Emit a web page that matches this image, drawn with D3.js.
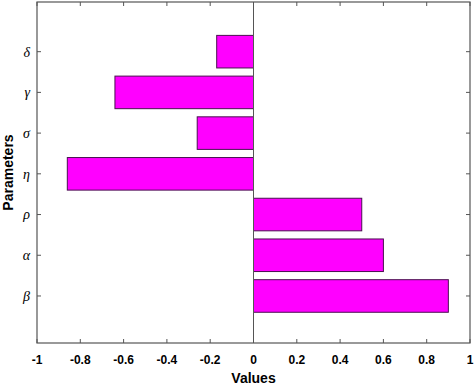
<html>
  <head>
    <meta charset="utf-8">
    <title>Parameter values</title>
    <style>
      body { margin: 0; background: #fff; }
      .tick-x { font: bold 12px "Liberation Sans", Arial, sans-serif; text-anchor: middle; }
      .tick-y { font: italic 14px "Liberation Serif", "Times New Roman", serif; text-anchor: end; }
      .axis-title { font: bold 14px "Liberation Sans", Arial, sans-serif; text-anchor: middle; }
    </style>
  </head>
  <body>
    <svg id="chart" width="474" height="387"></svg>
    <script src="https://cdn.jsdelivr.net/npm/d3@7"></script>
    <script>
// data, bottom to top
var params = ["β", "α", "ρ", "η", "σ", "γ", "δ"];
var values = [0.9, 0.6, 0.5, -0.86, -0.26, -0.64, -0.17];
var xTicks = [-1, -0.8, -0.6, -0.4, -0.2, 0, 0.2, 0.4, 0.6, 0.8, 1];

// plot box (window.top is reserved, so prefix everything)
var plotLeft = 37, plotRight = 470, plotTop = 2, plotBottom = 343;
var axisColour = "#555";

var svg = d3.select("#chart");

var x = d3.scaleLinear().domain([-1, 1]).range([plotLeft, plotRight]);
// category index -> vertical position (bars sit on 0..6)
var y = d3.scaleLinear().domain([-1.155, 7.22]).range([plotBottom, plotTop]);
var barH = (y(0) - y(1)) * 0.8;

// bars
svg.selectAll(".bar")
  .data(values)
  .enter().append("rect")
    .attr("class", "bar")
    .attr("x", d => x(Math.min(0, d)))
    .attr("width", d => Math.abs(x(d) - x(0)))
    .attr("y", (d, i) => y(i) - barH / 2)
    .attr("height", barH)
    .style("fill", "#ff00ff")
    .style("stroke", "#4a1050")
    .style("stroke-width", 1);

// zero line
svg.append("line")
    .attr("x1", x(0)).attr("x2", x(0))
    .attr("y1", plotTop).attr("y2", plotBottom)
    .style("stroke", axisColour).style("stroke-width", 1);

// box
svg.append("rect")
    .attr("x", plotLeft).attr("y", plotTop)
    .attr("width", plotRight - plotLeft).attr("height", plotBottom - plotTop)
    .style("fill", "none")
    .style("stroke", axisColour)
    .style("stroke-width", 1.2);

// x ticks on top and bottom
var tickLen = 4;
svg.selectAll(".xt-b").data(xTicks).enter().append("line")
    .attr("x1", d => x(d)).attr("x2", d => x(d))
    .attr("y1", plotBottom).attr("y2", plotBottom - tickLen)
    .style("stroke", axisColour);
svg.selectAll(".xt-t").data(xTicks).enter().append("line")
    .attr("x1", d => x(d)).attr("x2", d => x(d))
    .attr("y1", plotTop).attr("y2", plotTop + tickLen)
    .style("stroke", axisColour);
svg.selectAll(".tick-x").data(xTicks).enter().append("text")
    .attr("class", "tick-x")
    .attr("x", d => x(d))
    .attr("y", 364)
    .text(d => String(d));

// y ticks on left and right
svg.selectAll(".yt-l").data(params).enter().append("line")
    .attr("x1", plotLeft).attr("x2", plotLeft + tickLen)
    .attr("y1", (d, i) => y(i)).attr("y2", (d, i) => y(i))
    .style("stroke", axisColour);
svg.selectAll(".yt-r").data(params).enter().append("line")
    .attr("x1", plotRight).attr("x2", plotRight - tickLen)
    .attr("y1", (d, i) => y(i)).attr("y2", (d, i) => y(i))
    .style("stroke", axisColour);
svg.selectAll(".tick-y").data(params).enter().append("text")
    .attr("class", "tick-y")
    .attr("x", 30)
    .attr("y", (d, i) => y(i))
    .attr("dy", "0.35em")
    .text(d => d);

// axis titles
svg.append("text")
    .attr("class", "axis-title")
    .attr("x", x(0))
    .attr("y", 383)
    .text("Values");
svg.append("text")
    .attr("class", "axis-title")
    .attr("transform", "translate(13," + ((plotTop + plotBottom) / 2) + ") rotate(-90)")
    .text("Parameters");
    </script>
  </body>
</html>
